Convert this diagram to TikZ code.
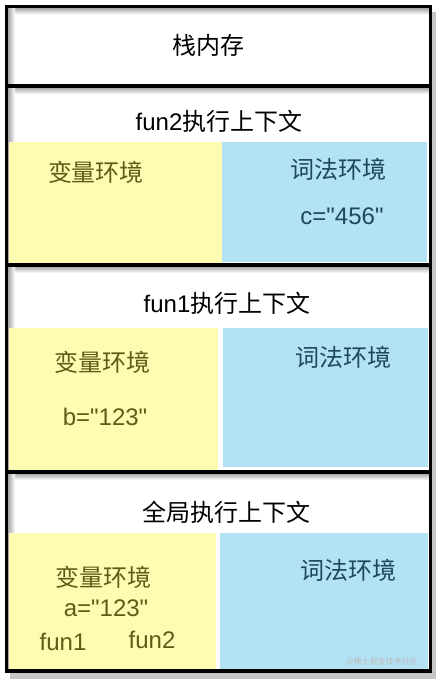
\documentclass[tikz,border=0pt]{standalone}
\usepackage{fontspec}
\newfontfamily\latin{Liberation Sans}
\newfontfamily\cjk{Noto Sans CJK SC}
\definecolor{varfill}{HTML}{FEFCB2}
\definecolor{lexfill}{HTML}{B4E2F5}
\definecolor{vartext}{HTML}{5E5D16}
\definecolor{lextext}{HTML}{1C4A5C}

\begin{document}
\begin{tikzpicture}[x=1pt,y=-1pt,
  lbl/.style={inner sep=0pt,font=\latin\fontsize{24}{28}\selectfont},
  varlbl/.style={lbl,text=vartext},
  lexlbl/.style={lbl,text=lextext},
  frame/.style={black,line width=3.5pt},
  topshade/.style={top color=gray!70,bottom color=white},
  leftshade/.style={left color=gray!70,right color=white}]
\tikzstyle{every node}+=[inner sep=0pt]
\useasboundingbox (0,0) rectangle (438,686);
\fill [white] (0,0) rectangle (438,686);
% outer shadow
\fill [gray!45] (10,12) rectangle (436,679);
\fill [white] (6.5,6.5) rectangle (430.5,671);
% inner shadows of the four parts
\foreach \top/\bot in {6.5/86,86/265,265/472,472/671} {
  \shade [topshade] (8,\top+1.5) rectangle (429,\top+8);
  \shade [leftshade] (8,\top+1.5) rectangle (15,\bot-1.5);
}
% fun2 context
\fill [varfill] (9,142) rectangle (222,263);
\fill [lexfill] (222,142) rectangle (427,262);
% fun1 context
\fill [varfill] (9,328) rectangle (218,470);
\fill [lexfill] (223,328) rectangle (428,467);
% global context
\fill [varfill] (9,533) rectangle (216,670);
\fill [lexfill] (220,533) rectangle (428,670);
% frames
\draw [frame] (6.5,6.5) rectangle (430.5,671);
\draw [frame] (6.5,86) -- (430.5,86);
\draw [frame] (6.5,265) -- (430.5,265);
\draw [frame] (6.5,472) -- (430.5,472);
% texts
\node [lbl] (stack) at (208,45) {\cjk 栈内存};
\node [lbl] (f2title) at (219,121) {fun2{\cjk 执行上下文}};
\node [varlbl] (f2var) at (96,172) {\cjk 变量环境};
\node [lexlbl] (f2lex) at (338,169) {\cjk 词法环境};
\node [lexlbl] (f2c) at (342,216) {c="456"};
\node [lbl] (f1title) at (227,303) {fun1{\cjk 执行上下文}};
\node [varlbl] (f1var) at (102,362) {\cjk 变量环境};
\node [varlbl] (f1b) at (105,417) {b="123"};
\node [lexlbl] (f1lex) at (343,357) {\cjk 词法环境};
\node [lbl] (gtitle) at (226,512) {\cjk 全局执行上下文};
\node [varlbl] (gvar) at (104,577) {\cjk 变量环境};
\node [varlbl] (ga) at (106,608) {a="123"};
\node [varlbl] (gf1) at (63,642) {fun1};
\node [varlbl] (gf2) at (152,640) {fun2};
\node [lexlbl] (glex) at (348,570) {\cjk 词法环境};
\node [text=gray!55,font=\fontsize{8}{9}\selectfont] (mark) at (382,662) {\cjk @稀土掘金技术社区};
\end{tikzpicture}
\end{document}
